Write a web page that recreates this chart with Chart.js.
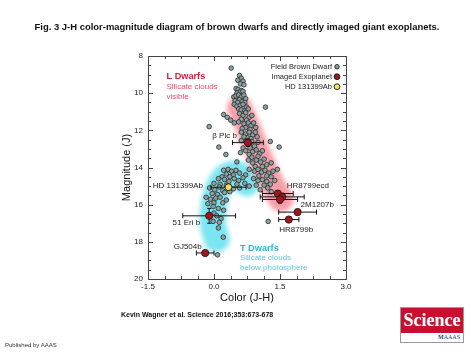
<!DOCTYPE html>
<html><head><meta charset="utf-8">
<script src="https://cdn.jsdelivr.net/npm/chart.js@4"></script>
<style>
html,body{margin:0;padding:0;background:#fff;width:474px;height:355px;overflow:hidden;font-family:"Liberation Sans",Arial,sans-serif;}
#wrap{position:relative;width:474px;height:355px;}
canvas{position:absolute;left:0;top:0;}
.t{position:absolute;white-space:nowrap;color:#111;line-height:1;}
#logo{position:absolute;left:400px;top:307px;width:62px;height:34px;border:1px solid #9a9a9a;background:#fff;}
#logo .red{height:25px;background:#c8102e;color:#fff;font-family:"Liberation Serif","Times New Roman",serif;font-weight:bold;font-size:18px;line-height:25px;text-align:center;}
#logo .aaas{height:9px;font-size:6px;line-height:9px;text-align:right;padding-right:3px;color:#27407a;font-family:"Liberation Serif",serif;}
</style></head><body>
<div id="wrap">
<canvas id="c" width="474" height="355"></canvas>
<div class="t" style="left:0;width:474px;text-align:center;top:22px;font-weight:bold;font-size:9.45px;">Fig. 3 J-H color-magnitude diagram of brown dwarfs and directly imaged giant exoplanets.</div>
<div class="t" style="left:121px;top:311px;font-weight:bold;font-size:7px;">Kevin Wagner et al. Science 2016;353:673-678</div>
<div class="t" style="left:5px;top:342px;font-size:6px;color:#333">Published by AAAS</div>
<div id="logo"><div class="red">Science</div><div class="aaas"><b>M</b>AAAS</div></div>
</div>
<script>
// ---------- data ----------
const fieldColor = [
 0.39,
 0.58,0.62,0.54,0.66,0.60,0.68,
 0.50,0.55,0.62,0.58,0.66,0.52,
 0.45,0.50,0.56,0.62,0.68,0.72,0.48,0.58,0.64,0.54,0.70,
 0.46,0.52,0.60,0.66,0.74,0.56,0.62,0.70,0.78,1.17,
 0.22,0.30,0.38,0.58,0.66,0.72,0.80,0.62,0.74,0.86,
 -0.11,0.46,0.56,0.68,0.78,0.84,0.90,0.72,0.82,0.64,0.95,
 0.62,0.72,0.80,0.88,0.94,0.76,0.84,0.68,0.98,
 0.11,0.62,0.72,0.80,0.86,0.92,1.00,1.28,1.48,0.66,0.82,
 0.27,0.60,0.72,0.80,0.88,0.96,1.04,1.10,0.86,1.00,
 0.52,0.78,0.88,0.96,1.06,1.14,1.20,0.94,1.10,1.30,
 0.80,0.92,1.00,1.08,1.16,1.24,1.34,1.44,1.02,1.20,1.30,0.72,
 0.90,1.00,1.10,1.20,1.28,1.38,0.96,1.14,
 1.22,1.05,1.30,
 0.22,0.32,0.40,0.50,0.28,0.44,0.58,0.18,0.36,
 0.10,0.24,0.34,0.46,0.56,0.66,0.00,0.14,0.28,0.52,0.70,0.80,
 -0.10,0.02,0.12,0.20,0.44,0.58,-0.04,0.08,0.24,0.36,
 -0.18,-0.08,0.04,0.14,0.28,0.00,0.20,-0.14,
 -0.02,0.10,0.22,0.00,
 0.06,0.16,0.12,-0.02,
 0.10,0.21,
 1.23,0.08
];
const fieldMag = [
 8.65,
 9.05,9.2,9.3,9.35,9.5,9.55,
 9.75,9.8,9.85,9.95,9.9,10.0,
 10.2,10.15,10.1,10.2,10.1,10.3,10.4,10.35,10.45,10.5,10.5,
 10.6,10.7,10.65,10.6,10.75,10.85,10.9,10.95,10.85,10.75,
 11.15,11.3,11.45,11.1,11.2,11.05,11.3,11.4,11.45,11.2,
 11.8,11.6,11.55,11.65,11.6,11.75,11.6,11.85,11.95,11.9,11.85,
 12.1,12.2,12.1,12.25,12.1,12.4,12.45,12.35,12.35,
 12.9,12.55,12.6,12.75,12.6,12.85,12.65,12.6,12.9,12.95,12.95,
 13.3,13.2,13.1,13.3,13.15,13.05,13.25,13.1,13.45,13.4,
 13.7,13.6,13.75,13.6,13.7,13.55,13.85,13.95,13.95,13.75,
 14.1,14.2,14.1,14.25,14.15,14.3,14.2,14.1,14.45,14.45,14.5,14.4,
 14.6,14.7,14.65,14.75,14.9,14.7,14.95,14.95,
 15.1,15.2,15.3,
 14.15,14.1,14.2,14.15,14.35,14.4,14.3,14.5,14.5,
 14.6,14.65,14.75,14.6,14.7,14.55,14.85,14.9,14.95,14.9,14.85,15.0,
 15.1,15.2,15.05,15.25,15.15,15.1,15.4,15.45,15.35,15.3,
 15.6,15.7,15.65,15.6,15.75,15.9,15.9,15.95,
 16.1,16.2,16.3,16.45,
 16.6,16.75,16.95,16.9,
 17.25,17.75,
 16.9,18.7
];
// Imaged exoplanets: beta Pic b, HR8799e, HR8799c, HR8799d, 2M1207b, HR8799b, 51 Eri b, GJ504b
const planetNames = ['β Pic b','HR8799ecd','','','2M1207b','HR8799b','51 Eri b','GJ504b'];
const planetColor = [0.77,1.45,1.55,1.50,1.90,1.70,-0.11,-0.20];
const planetMag   = [12.66,15.40,15.58,15.72,16.40,16.80,16.60,18.60];
const planetColorErr = [0.35,0.35,0.50,0.40,0.43,0.23,0.60,0.20];
const planetMagErr   = [0.20,0.15,0.20,0.20,0.15,0.10,0.40,0.10];
const hdNames = ['HD 131399Ab'];
const hdColor = [0.33];
const hdMag = [15.06];
const hdColorErr = [0.40];
const hdMagErr = [0.15];
// shaded sequences
const lBandColor = [0.58,0.80,1.05,1.30,1.52];
const lBandMag   = [10.8,12.0,13.5,14.8,15.7];
const tBandColor = [0.06,-0.03,0.00,0.10,0.27,0.47,0.64,0.74];
const tBandMag   = [17.85,17.0,16.0,15.1,14.5,14.35,14.5,14.85];
const xTickLabels = ['-1.5','0.0','1.5','3.0'];
const xMajorTicks = [-1.5,0,1.5,3.0];
const xMinorTicks = [-1.125,-0.75,-0.375,0.375,0.75,1.125,1.875,2.25,2.625];
const yMajorTicks = [8,10,12,14,16,18,20];
const yMinorTicks = [8.5,9,9.5,10.5,11,11.5,12.5,13,13.5,14.5,15,15.5,16.5,17,17.5,18.5,19,19.5];
const legendLabels = ['Field Brown Dwarf','Imaged Exoplanet','HD 131399Ab'];

// ---------- styles ----------
const FONT = '"Liberation Sans", Arial, sans-serif';
Chart.defaults.font.family = FONT;
Chart.defaults.color = '#222';
const zip = (xs, ys) => xs.map((x, i) => ({x, y: ys[i]}));
const FIELD_FILL = '#8fa1a2', FIELD_EDGE = '#262b2b';
const PLANET_FILL = '#a3161d', HD_FILL = '#f3e35c', EDGE = '#1a1a1a';

// label offsets (pixels) from their marker
const planetLabelLayout = [
 {dx:-11, dy:-6.5, align:'right'},
 {dx:9, dy:-7.5, align:'left'},
 null, null,
 {dx:3, dy:-7.5, align:'left'},
 {dx:-9.5, dy:10, align:'left'},
 {dx:-9, dy:6.5, align:'right'},
 {dx:-3.5, dy:-6.5, align:'right'}
];
const hdLabelLayout = [{dx:-25.5, dy:-1.5, align:'right'}];

const overlay = {
  id: 'overlay',
  beforeDatasetDraw(chart, args) {
    const ds = chart.data.datasets[args.index];
    const ctx = chart.ctx;
    if (ds.band) { ctx.save(); ctx.filter = 'blur(2.5px)'; }
    if (ds.errX) {
      const xs = chart.scales.x, ys = chart.scales.y;
      ctx.save();
      ctx.strokeStyle = '#111'; ctx.lineWidth = 1;
      ds.data.forEach((p, i) => {
        const px = xs.getPixelForValue(p.x), py = ys.getPixelForValue(p.y);
        const x0 = xs.getPixelForValue(p.x - ds.errX[i]), x1 = xs.getPixelForValue(p.x + ds.errX[i]);
        const y0 = ys.getPixelForValue(p.y - ds.errY[i]), y1 = ys.getPixelForValue(p.y + ds.errY[i]);
        ctx.beginPath();
        ctx.moveTo(x0, py); ctx.lineTo(x1, py);
        ctx.moveTo(x0, py - 2.5); ctx.lineTo(x0, py + 2.5);
        ctx.moveTo(x1, py - 2.5); ctx.lineTo(x1, py + 2.5);
        ctx.moveTo(px, y0); ctx.lineTo(px, y1);
        ctx.moveTo(px - 2, y0); ctx.lineTo(px + 2, y0);
        ctx.moveTo(px - 2, y1); ctx.lineTo(px + 2, y1);
        ctx.stroke();
      });
      ctx.restore();
    }
  },
  afterDatasetDraw(chart, args) {
    const ds = chart.data.datasets[args.index];
    if (ds.band) chart.ctx.restore();
  },
  afterDraw(chart) {
    const ctx = chart.ctx, a = chart.chartArea, xs = chart.scales.x, ys = chart.scales.y;
    ctx.save();
    // frame
    ctx.strokeStyle = '#444'; ctx.lineWidth = 1;
    ctx.strokeRect(Math.round(a.left) + 0.5, Math.round(a.top) + 0.5, Math.round(a.right - a.left), Math.round(a.bottom - a.top));
    // inward ticks on all sides
    ctx.beginPath();
    const tickX = (v, len) => { const p = Math.round(xs.getPixelForValue(v)) + 0.5;
      ctx.moveTo(p, a.bottom); ctx.lineTo(p, a.bottom - len); ctx.moveTo(p, a.top); ctx.lineTo(p, a.top + len); };
    const tickY = (v, len) => { const p = Math.round(ys.getPixelForValue(v)) + 0.5;
      ctx.moveTo(a.left, p); ctx.lineTo(a.left + len, p); ctx.moveTo(a.right, p); ctx.lineTo(a.right - len, p); };
    xMajorTicks.forEach(v => tickX(v, 5)); xMinorTicks.forEach(v => tickX(v, 3));
    yMajorTicks.forEach(v => tickY(v, 5)); yMinorTicks.forEach(v => tickY(v, 3));
    ctx.stroke();
    // labels of planets
    ctx.fillStyle = '#222'; ctx.font = '8px ' + FONT; ctx.textBaseline = 'middle';
    const lab = (names, xsArr, ysArr, layout) => names.forEach((n, i) => {
      if (!n || !layout[i]) return;
      ctx.textAlign = layout[i].align;
      ctx.fillText(n, xs.getPixelForValue(xsArr[i]) + layout[i].dx, ys.getPixelForValue(ysArr[i]) + layout[i].dy);
    });
    lab(planetNames, planetColor, planetMag, planetLabelLayout);
    lab(hdNames, hdColor, hdMag, hdLabelLayout);
    // region annotations
    ctx.textAlign = 'left';
    const txt = (s, x, y, font, col) => { ctx.font = font; ctx.fillStyle = col; ctx.fillText(s, xs.getPixelForValue(x), ys.getPixelForValue(y)); };
    txt('L Dwarfs', -1.08, 9.12, 'bold 9.2px ' + FONT, '#cf1f3c');
    txt('Silicate clouds', -1.08, 9.67, '8px ' + FONT, '#e2506a');
    txt('visible', -1.08, 10.22, '8px ' + FONT, '#e2506a');
    txt('T Dwarfs', 0.59, 18.38, 'bold 9.2px ' + FONT, '#36b4cc');
    txt('Silicate clouds', 0.59, 18.88, '8px ' + FONT, '#5cc6dc');
    txt('below photosphere', 0.59, 19.38, '8px ' + FONT, '#5cc6dc');
    // legend (text right, marker at right)
    const lx = a.right - 14, mx = a.right - 9;
    const ly = [a.top + 10.7, a.top + 20.7, a.top + 30.7];
    const lfill = [FIELD_FILL, PLANET_FILL, HD_FILL];
    const lr = [2.2, 2.9, 2.9];
    ctx.font = '7.5px ' + FONT; ctx.fillStyle = '#222'; ctx.textAlign = 'right';
    legendLabels.forEach((s, i) => {
      ctx.fillStyle = '#222'; ctx.fillText(s, lx, ly[i]);
      ctx.beginPath(); ctx.arc(mx, ly[i], lr[i], 0, Math.PI * 2);
      ctx.fillStyle = lfill[i]; ctx.fill(); ctx.lineWidth = 0.9; ctx.strokeStyle = EDGE; ctx.stroke();
    });
    ctx.restore();
  }
};

new Chart(document.getElementById('c'), {
  type: 'scatter',
  data: {
    datasets: [
      { label: 'HD 131399Ab', data: zip(hdColor, hdMag), errX: hdColorErr, errY: hdMagErr, order: 1,
        backgroundColor: HD_FILL, borderColor: EDGE, borderWidth: 0.9, pointRadius: 3.4 },
      { label: 'Imaged Exoplanet', data: zip(planetColor, planetMag), errX: planetColorErr, errY: planetMagErr, order: 2,
        backgroundColor: PLANET_FILL, borderColor: EDGE, borderWidth: 0.9, pointRadius: 3.6 },
      { label: 'Field Brown Dwarf', data: zip(fieldColor, fieldMag), order: 3,
        backgroundColor: FIELD_FILL, borderColor: FIELD_EDGE, borderWidth: 0.8, pointRadius: 2.3 },
      { label: 'L band', band: true, data: zip(lBandColor, lBandMag), order: 8, showLine: true, tension: 0.4,
        borderColor: 'rgba(244,140,150,0.85)', borderWidth: 25, borderCapStyle: 'round', borderJoinStyle: 'round', pointRadius: 0 },
      { label: 'T band', band: true, data: zip(tBandColor, tBandMag), order: 9, showLine: true, tension: 0.4,
        borderColor: 'rgba(100,224,238,0.85)', borderWidth: 26, borderCapStyle: 'round', borderJoinStyle: 'round', pointRadius: 0 }
    ]
  },
  options: {
    responsive: false, animation: false, events: [],
    layout: { padding: { left: 120, top: 56, right: 128, bottom: 50 } },
    plugins: { legend: { display: false }, tooltip: { enabled: false } },
    scales: {
      x: { type: 'linear', min: -1.5, max: 3.0, afterFit: s => { s.height = 26; },
        afterBuildTicks: s => { s.ticks = xMajorTicks.map(v => ({value: v})); },
        ticks: { font: { size: 8 }, color: '#222', padding: 3, maxRotation: 0,
          callback: (v, i) => xTickLabels[i] },
        grid: { display: false, drawTicks: false }, border: { display: false },
        title: { display: true, text: 'Color (J-H)', font: { size: 11 }, color: '#111', padding: 0 } },
      y: { type: 'linear', reverse: true, min: 8, max: 20, afterFit: s => { s.width = 28; },
        afterBuildTicks: s => { s.ticks = yMajorTicks.map(v => ({value: v})); },
        ticks: { font: { size: 8 }, color: '#222', padding: 5 },
        grid: { display: false, drawTicks: false }, border: { display: false },
        title: { display: true, text: 'Magnitude (J)', font: { size: 11 }, color: '#111', padding: 0 } }
    }
  },
  plugins: [overlay]
});
</script>
</body></html>
